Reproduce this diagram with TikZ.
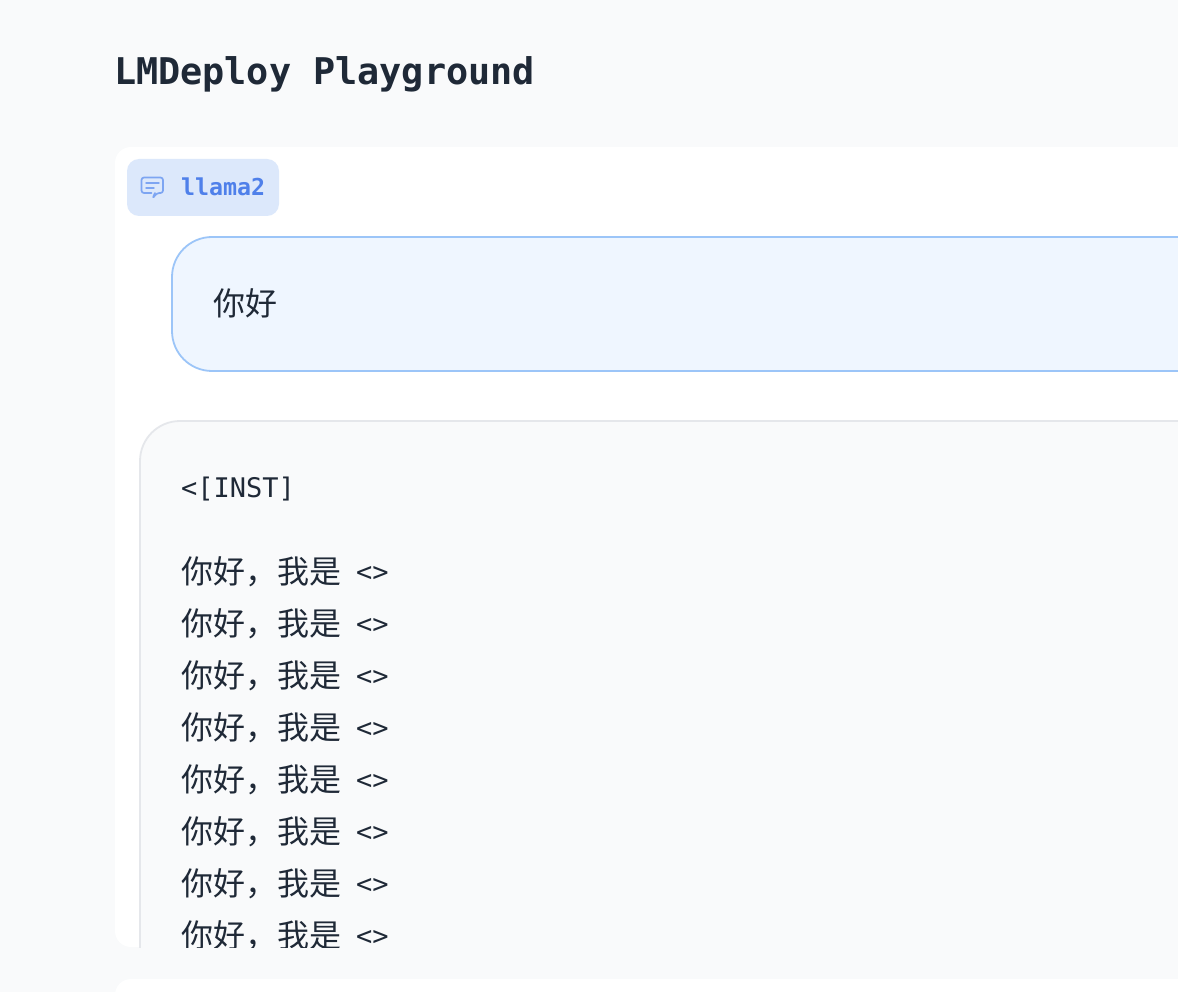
\documentclass[tikz,border=0pt]{standalone}
\usepackage{fontspec}
\setmonofont{DejaVu Sans Mono}
\newfontfamily\cjk{Noto Sans CJK SC}
\definecolor{pagebg}{HTML}{F9FAFB}
\definecolor{ink}{HTML}{1F2937}
\definecolor{tabfill}{HTML}{DCE8FB}
\definecolor{tabink}{HTML}{4F80EA}
\definecolor{iconink}{HTML}{7DA5F2}
\definecolor{userfill}{HTML}{EFF6FF}
\definecolor{userline}{HTML}{9CC5F8}
\definecolor{botline}{HTML}{E5E7EB}
\tikzset{
  x=1pt,y=-1pt,
  txt/.style={anchor=base west,inner sep=0pt,outer sep=0pt,text=ink},
  title/.style={txt,font=\fontsize{36.8}{40}\selectfont\ttfamily\bfseries},
  tabtext/.style={txt,text=tabink,font=\fontsize{23.3}{26}\selectfont\ttfamily\bfseries},
  monotext/.style={txt,font=\fontsize{27}{30}\selectfont\ttfamily},
  cjktext/.style={txt,font=\fontsize{32}{36}\selectfont\cjk},
  icon/.style={draw=iconink,line width=1.7pt,line cap=round,line join=round},
}
\begin{document}
\begin{tikzpicture}
\useasboundingbox (0,0) rectangle (1178,992);
\fill[pagebg] (0,0) rectangle (1178,992);
\node[title] (heading) at (114,85) {LMDeploy Playground};
% first card
\fill[white,rounded corners=16pt] (115,147) rectangle (1240,947);
% second card
\fill[white,rounded corners=16pt] (115,979) rectangle (1240,1100);
% tab
\fill[tabfill,rounded corners=12pt] (127,159) rectangle (279,216);
\draw[icon,rounded corners=2.5pt] (151.5,193) -- (141.5,193) -- (141.5,177.5) -- (163,177.5) -- (163,193) -- (157,193) -- (152.5,198.5) -- (155,193);
\draw[icon,line width=1.4pt] (146,183) -- (159,183) (146,188) -- (154,188);
\node[tabtext] (tabname) at (181,196) {llama2};
% user bubble
\draw[draw=userline,fill=userfill,line width=1.8pt,rounded corners=40pt] (172,237) rectangle (1260,371);
\node[cjktext] (user) at (213.5,316) {你好};
% bot bubble and clipped text
\begin{scope}
\clip (115,400) rectangle (1178,947);
\draw[draw=botline,fill=pagebg,line width=1.8pt,rounded corners=40pt] (140,421) rectangle (1260,1100);
\node[monotext] (inst) at (181,497) {<[INST]};
\foreach \n/\y in {1/583.5,2/635.5,3/687.5,4/739.5,5/791.5,6/843.5,7/895.5,8/947.5}{
  \node[cjktext] (line\n) at (181.5,\y) {你好，我是};
  \node[monotext] (mark\n) at (356,\y-2) {<>};
}
\end{scope}
\end{tikzpicture}
\end{document}
